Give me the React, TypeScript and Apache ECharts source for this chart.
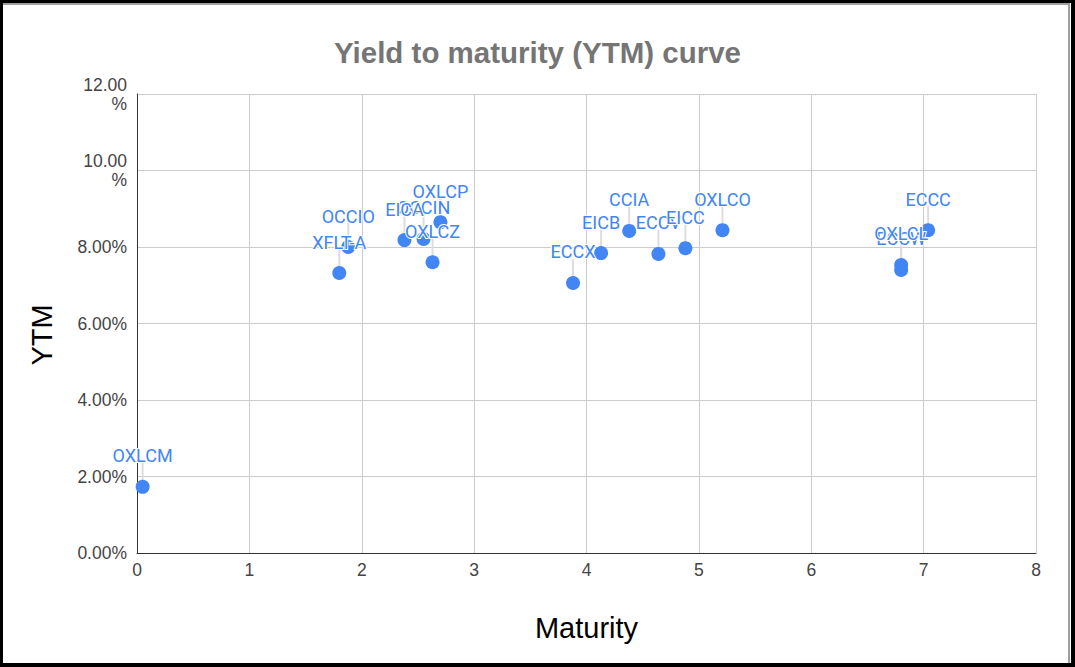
import React, { useEffect, useRef } from "react";
import * as echarts from "echarts";

const names = ["OXLCM", "XFLT-A", "OCCIO", "OCCIN", "EICA", "OXLCZ", "OXLCP", "ECCX", "EICB", "CCIA", "ECCV", "EICC", "OXLCO", "ECCW", "OXLCL", "ECCC"];
const maturity = [0.05, 1.8, 1.88, 2.55, 2.38, 2.63, 2.7, 3.88, 4.13, 4.38, 4.64, 4.88, 5.21, 6.8, 6.8, 7.04];
const ytm = [1.73, 7.32, 8.0, 8.21, 8.18, 7.6, 8.65, 7.06, 7.84, 8.42, 7.82, 7.97, 8.44, 7.4, 7.53, 8.44];

const BLUE = "#4285F4";

export default function App() {
  const ref = useRef<HTMLDivElement>(null);
  useEffect(() => {
    document.body.style.margin = "0";
    const chart = echarts.init(ref.current!, undefined, { renderer: "svg" });
    const data = names.map((n, i) => ({ name: n, value: [maturity[i], ytm[i]] }));
    chart.setOption({
      animation: false,
      title: {
        text: "Yield to maturity (YTM) curve",
        left: "center",
        top: 32,
        textStyle: { fontFamily: "Liberation Sans", fontWeight: "bold", fontSize: 29.5, color: "#757575" },
      },
      grid: { left: 137, right: 39, top: 94, bottom: 114 },
      graphic: [
        {
          type: "text",
          x: 42,
          y: 335,
          rotation: Math.PI / 2,
          style: {
            text: "YTM",
            align: "center",
            verticalAlign: "middle",
            fontFamily: "Liberation Sans",
            fontSize: 29,
            fill: "#000",
          },
        },
      ],
      xAxis: {
        type: "value",
        min: 0,
        max: 8,
        interval: 1,
        name: "Maturity",
        nameLocation: "middle",
        nameGap: 60,
        nameTextStyle: { fontFamily: "Liberation Sans", fontSize: 29, color: "#000" },
        axisLine: { show: true, lineStyle: { color: "#333", width: 1 } },
        axisTick: { show: false },
        axisLabel: { fontFamily: "Liberation Sans", fontSize: 17.5, color: "#444", margin: 8 },
        splitLine: { show: true, lineStyle: { color: "#ccc", width: 1 } },
      },
      yAxis: {
        type: "value",
        min: 0,
        max: 12,
        interval: 2,
        axisLine: { show: true, lineStyle: { color: "#333", width: 1 } },
        axisTick: { show: false },
        axisLabel: {
          fontFamily: "Liberation Sans",
          fontSize: 17.5,
          color: "#444",
          margin: 10,
          lineHeight: 19,
          formatter: (v: number) => (v >= 10 ? v.toFixed(2) + "\n%" : v.toFixed(2) + "%"),
        },
        splitLine: { show: true, lineStyle: { color: "#ccc", width: 1 } },
      },
      series: [
        {
          type: "custom",
          z: 1,
          silent: true,
          data: names.map((n, i) => [maturity[i], ytm[i]]),
          renderItem: (params: any, api: any) => {
            const p = api.coord([api.value(0), api.value(1)]);
            return {
              type: "line",
              shape: { x1: p[0], y1: p[1] - 6, x2: p[0], y2: p[1] - 24 },
              style: { stroke: "#ddd", lineWidth: 2 },
            };
          },
        },
        {
          type: "scatter",
          z: 2,
          symbolSize: 14,
          itemStyle: { color: BLUE, opacity: 1 },
          data,
          label: {
            show: true,
            position: "top",
            distance: 15,
            formatter: (p: any) => p.name,
            fontFamily: "Roboto",
            fontSize: 18,
            color: BLUE,
            textBorderColor: "#fff",
            textBorderWidth: 2,
          },
        },
      ],
    });
    return () => chart.dispose();
  }, []);
  return (
    <div style={{ position: "fixed", left: 0, top: 0, width: 1075, height: 667, background: "#fff" }}>
      <div ref={ref} style={{ position: "absolute", left: 0, top: 0, width: 1075, height: 667 }} />
      <div
        style={{
          position: "absolute",
          left: 3,
          top: 3,
          width: 1067,
          height: 661,
          boxSizing: "border-box",
          borderTop: "2px solid #9e9e9e",
          borderRight: "2px solid #9e9e9e",
          pointerEvents: "none",
        }}
      />
      <div
        style={{
          position: "absolute",
          left: 0,
          top: 0,
          width: 1075,
          height: 667,
          boxSizing: "border-box",
          borderTop: "3px solid #000",
          borderLeft: "3px solid #000",
          borderBottom: "4px solid #000",
          borderRight: "4px solid #000",
          pointerEvents: "none",
        }}
      />
    </div>
  );
}
